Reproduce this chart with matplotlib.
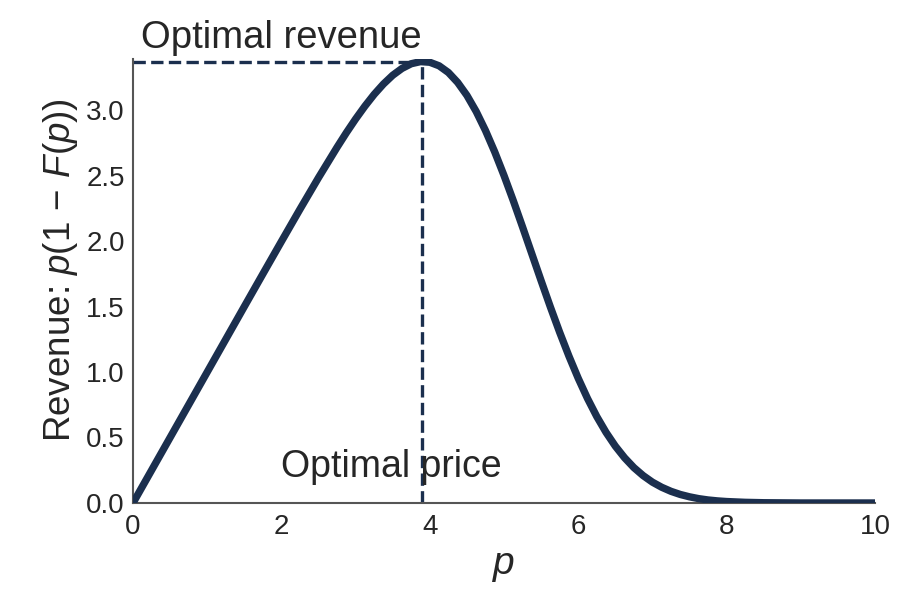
import numpy as np
import matplotlib.pyplot as plt

plt.rcParams['font.family'] = ['Liberation Sans', 'DejaVu Sans']
plt.rcParams['mathtext.fontset'] = 'custom'
plt.rcParams['mathtext.rm'] = 'Liberation Sans'
plt.rcParams['mathtext.it'] = 'Liberation Sans:italic'

# price grid and revenue
price = [0, 0.25, 0.5, 0.75, 1.0, 1.25, 1.5, 1.75, 2.0, 2.25, 2.5, 2.75, 2.875,
         3.0, 3.125, 3.25, 3.375, 3.5, 3.625, 3.75, 3.875, 4.0, 4.125, 4.25, 4.375,
         4.5, 4.625, 4.75, 4.875, 5.0, 5.125, 5.25, 5.375, 5.5, 5.625, 5.75, 5.875,
         6.0, 6.125, 6.25, 6.375, 6.5, 6.625, 6.75, 6.875, 7.0, 7.125,
         7.25, 7.375, 7.5, 7.625, 7.75, 7.875, 8.0, 8.25, 8.5, 8.75, 9.0, 9.5, 10.0]
revenue = [0, 0.25, 0.5, 0.75, 1.0, 1.25, 1.5, 1.749, 1.997, 2.243, 2.484, 2.716, 2.827,
           2.932, 3.030, 3.120, 3.199, 3.266, 3.318, 3.354, 3.370, 3.365, 3.338, 3.287, 3.211,
           3.112, 2.989, 2.844, 2.680, 2.5, 2.308, 2.107, 1.902, 1.697, 1.496, 1.303, 1.121,
           0.952, 0.798, 0.660, 0.539, 0.434, 0.345, 0.270, 0.209, 0.159, 0.120,
           0.089, 0.065, 0.047, 0.033, 0.023, 0.016, 0.011, 0.005, 0.002, 0.001, 0.0, 0.0, 0.0]

opt_price = 3.9
opt_rev = 3.37

col = '#1b2f4e'
txt = '#262626'

fig = plt.figure(figsize=(9.2, 5.9), dpi=100)
ax = fig.add_axes([0.1446, 0.1475, 0.8065, 0.7525])

ax.plot(price, revenue, color=col, lw=5.3, solid_joinstyle='round', zorder=3)
ax.plot([0, opt_price], [opt_rev, opt_rev], '--', color=col, lw=2.4, clip_on=False)
ax.plot([opt_price, opt_price], [0, opt_rev], '--', color=col, lw=2.4, clip_on=False)

ax.text(2.0, 3.476, 'Optimal revenue', ha='center', va='baseline',
        fontsize=27.5, color=txt)
ax.text(3.48, 0.2, 'Optimal price', ha='center', va='baseline',
        fontsize=27, color=txt)

ax.set_xlim(0, 10)
ax.set_ylim(0, opt_rev + 0.02)
ax.set_xticks([0, 2, 4, 6, 8, 10])
ax.set_yticks([0.0, 0.5, 1.0, 1.5, 2.0, 2.5, 3.0])
ax.set_yticklabels(['0.0', '0.5', '1.0', '1.5', '2.0', '2.5', '3.0'])
ax.tick_params(labelsize=20, colors=txt, length=0)
ax.tick_params(axis='x', pad=8)
ax.tick_params(axis='y', pad=6)

ax.set_xlabel('$p$', fontsize=28, color=txt, labelpad=6)
ax.set_ylabel('Revenue: $p(1\\,-\\,F(p))$', fontsize=26.5, color=txt)
ax.yaxis.set_label_coords(-0.072, 0.525)

for s in ['top', 'right']:
    ax.spines[s].set_visible(False)
for s in ['left', 'bottom']:
    ax.spines[s].set_color('#555555')
    ax.spines[s].set_linewidth(1.5)

fig.savefig('out.png', dpi=100)
